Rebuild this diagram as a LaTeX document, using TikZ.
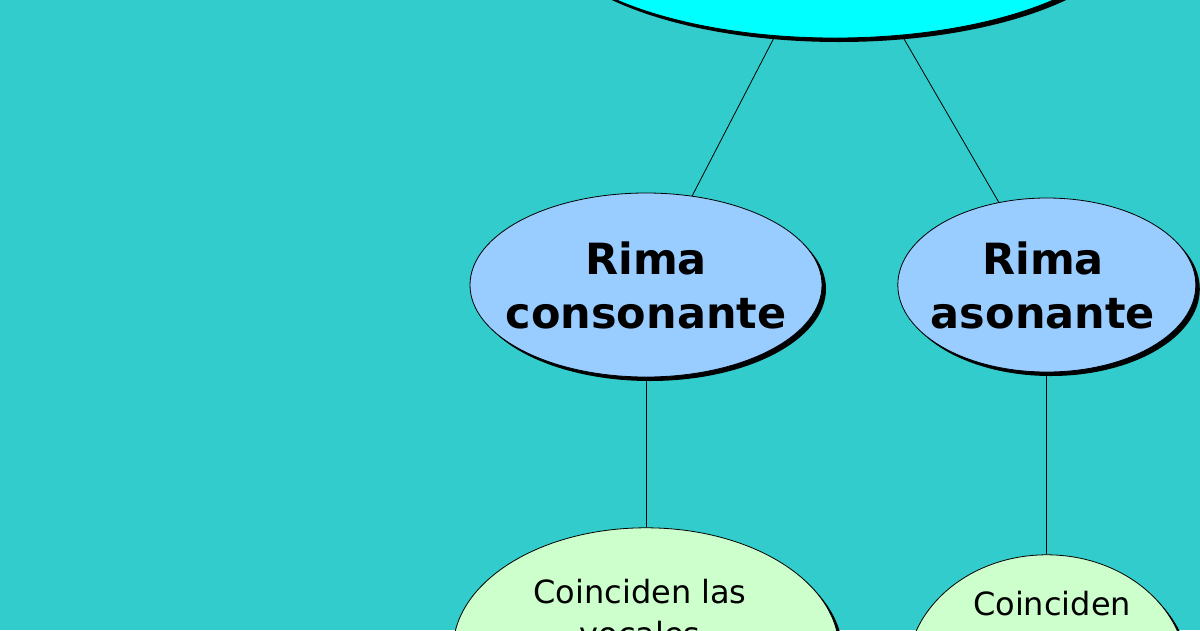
\documentclass[tikz,border=0pt]{standalone}
\usepackage{fontspec}
\setmainfont{DejaVu Sans}
\usetikzlibrary{shapes, positioning, shadows, calc}
\definecolor{fondo}{HTML}{33CCCC}
\definecolor{celeste}{HTML}{00FFFF}
\definecolor{azul}{HTML}{99CCFF}
\definecolor{verde}{HTML}{CCFFCC}
\tikzset{sombra/.style = {drop shadow = {shadow xshift = 4pt, shadow yshift = -4pt, fill = black, opacity = 1}}}
\tikzset{rima/.style = {ellipse, draw, line width = 0.8pt, fill = azul, inner sep = 0pt, sombra}}
\tikzset{hoja/.style = {ellipse, draw, line width = 0.8pt, fill = verde, inner sep = 0pt, sombra}}
\tikzset{titulo/.style = {inner sep = 0pt, anchor = base, font = \bfseries\fontsize{43}{54}\selectfont}}
\tikzset{texto/.style = {inner sep = 0pt, anchor = base, font = \fontsize{32}{42}\selectfont}}
\def \anchoverde {386pt}

\begin{document}
\begin{tikzpicture}[x = 1pt, y = -1pt]
\useasboundingbox [fill = fondo] (0, 0) rectangle (1200, 630);
\clip (0, 0) rectangle (1200, 630);

\node (tema) [ellipse, draw, line width = 0.8pt, fill = celeste, sombra, minimum width = 594pt, minimum height = 236pt] at (835, -80) {};

\node (consonante) [rima, minimum width = 352pt, minimum height = 184pt] at (646, 285) {};
\node (asonante) [rima, minimum width = 298pt, minimum height = 174pt, right = 75pt of consonante] {};

\node (consvoc) [hoja, minimum width = \anchoverde, minimum height = 244pt, below = 150pt of consonante] {};
\node (asovoc) [hoja, minimum width = 280pt, minimum height = 238pt, below = 182pt of asonante] {};

\node (consonantetxt) [titulo] at (646, 274) {\begin{tabular}[t]{c}Rima\\consonante\end{tabular}};
\node (asonantetxt) [titulo] at (1043, 274) {\begin{tabular}[t]{c}Rima\\asonante\end{tabular}};
\node (consvoctxt) [texto] at (640, 603) {\begin{tabular}[t]{c}Coinciden las\\vocales\end{tabular}};
\node (asovoctxt) [texto] at (1052, 615) {\begin{tabular}[t]{c}Coinciden\end{tabular}};

\draw[-, line width = 0.8pt] (tema) to (consonante);
\draw[-, line width = 0.8pt] (tema) to (asonante);
\draw[-, line width = 0.8pt] (consonante) to (consvoc);
\draw[-, line width = 0.8pt] (asonante) to (asovoc);

\end{tikzpicture}
\end{document}
